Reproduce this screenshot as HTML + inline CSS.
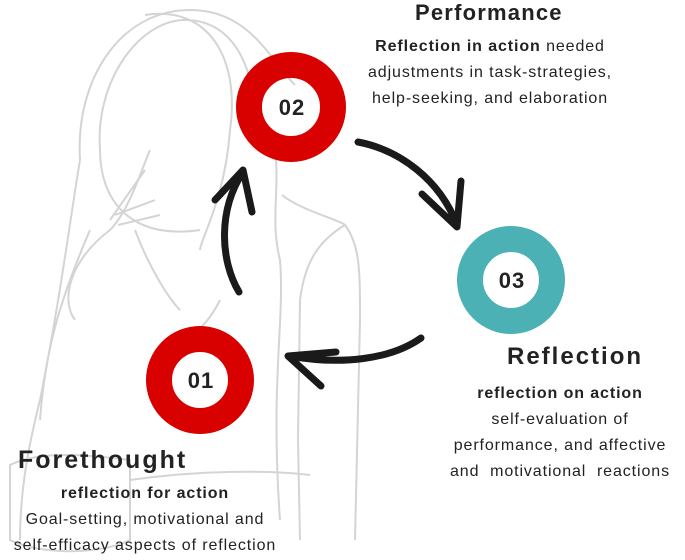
<!DOCTYPE html>
<html><head><style>
body{margin:0;width:685px;height:560px;background:#fff;overflow:hidden;position:relative;font-family:"Liberation Sans",sans-serif;color:#222}
.t{position:absolute;white-space:nowrap;text-align:center}
.p{font-size:16px;letter-spacing:0.9px;line-height:26px}
.h{font-size:22px;font-weight:bold;letter-spacing:1.2px}
</style></head><body>
<svg width="685" height="560" style="position:absolute;left:0;top:0">
<g fill="none" stroke="#d4d4d4" stroke-width="2">
<path d="M80,160 C75,80 120,10 190,10 C250,10 270,60 295,85"/>
<path d="M100,150 C95,80 140,20 185,20 C230,20 245,60 250,80"/>
<path d="M145,15 C210,5 240,60 230,130 C225,200 200,240 200,250"/>
<path d="M100,150 C100,200 130,240 200,230"/>
<path d="M80,160 C70,220 60,300 40,400 C25,460 20,500 20,540"/>
<path d="M75,320 C60,300 70,260 110,230 C130,210 145,160 150,150"/>
<path d="M110,220 L145,170 M115,215 L155,200 M118,225 L160,215"/>
<path d="M135,230 C150,270 170,300 180,310"/>
<path d="M275,150 C280,190 270,220 280,260 C285,320 270,380 280,520"/>
<path d="M282,195 C300,210 340,220 345,225 C360,245 360,270 360,320 L355,540"/>
<path d="M345,225 C320,240 305,260 300,300 L298,440 L300,540"/>
<path d="M220,300 C210,320 200,330 190,335"/>
<path d="M90,230 C60,300 45,350 40,420"/>
<path d="M10,465 C40,450 90,455 130,460 L130,540 C100,555 40,555 10,540 Z"/>
<path d="M130,480 C200,470 270,470 310,475"/>
</g>
<circle cx="291" cy="107" r="42" fill="none" stroke="#d90000" stroke-width="26"/>
<circle cx="200" cy="380" r="41" fill="none" stroke="#d90000" stroke-width="26"/>
<circle cx="511" cy="280" r="41" fill="none" stroke="#4bb1b4" stroke-width="26"/>
<g fill="none" stroke="#1a1a1a" stroke-width="7" stroke-linecap="round" stroke-linejoin="round">
<path d="M239,292 C220,260 218,210 243,172"/>
<path d="M215,200 L243,170 L252,212"/>
<path d="M358,142 C400,150 440,180 457,225"/>
<path d="M422,194 L457,227 L461,181"/>
<path d="M421,338 C390,360 340,365 290,356"/>
<path d="M336,352 L288,356 L321,386"/>
</g>
<g font-family="Liberation Sans,sans-serif" font-weight="bold" font-size="22" letter-spacing="1" text-anchor="middle" fill="#222">
<text x="292" y="115">02</text><text x="201" y="388">01</text><text x="512" y="288">03</text>
</g>
</svg>
<div class="t h" style="left:415px;top:0px">Performance</div>
<div class="t p" style="left:340px;top:34px;width:300px">
<b>Reflection in action</b> needed<br>adjustments in task-strategies,<br>help-seeking, and elaboration</div>
<div class="t h" style="left:507px;top:343px;font-size:24px;letter-spacing:2px">Reflection</div>
<div class="t p" style="left:430px;top:381px;width:260px">
<b>reflection on action</b><br>self-evaluation of<br>performance, and affective<br>and &nbsp;motivational &nbsp;reactions</div>
<div class="t h" style="left:18px;top:446px;font-size:25px;letter-spacing:2px">Forethought</div>
<div class="t p" style="left:-5px;top:481px;width:300px">
<b>reflection for action</b><br>Goal-setting, motivational and<br>self-efficacy aspects of reflection</div>
</body></html>
